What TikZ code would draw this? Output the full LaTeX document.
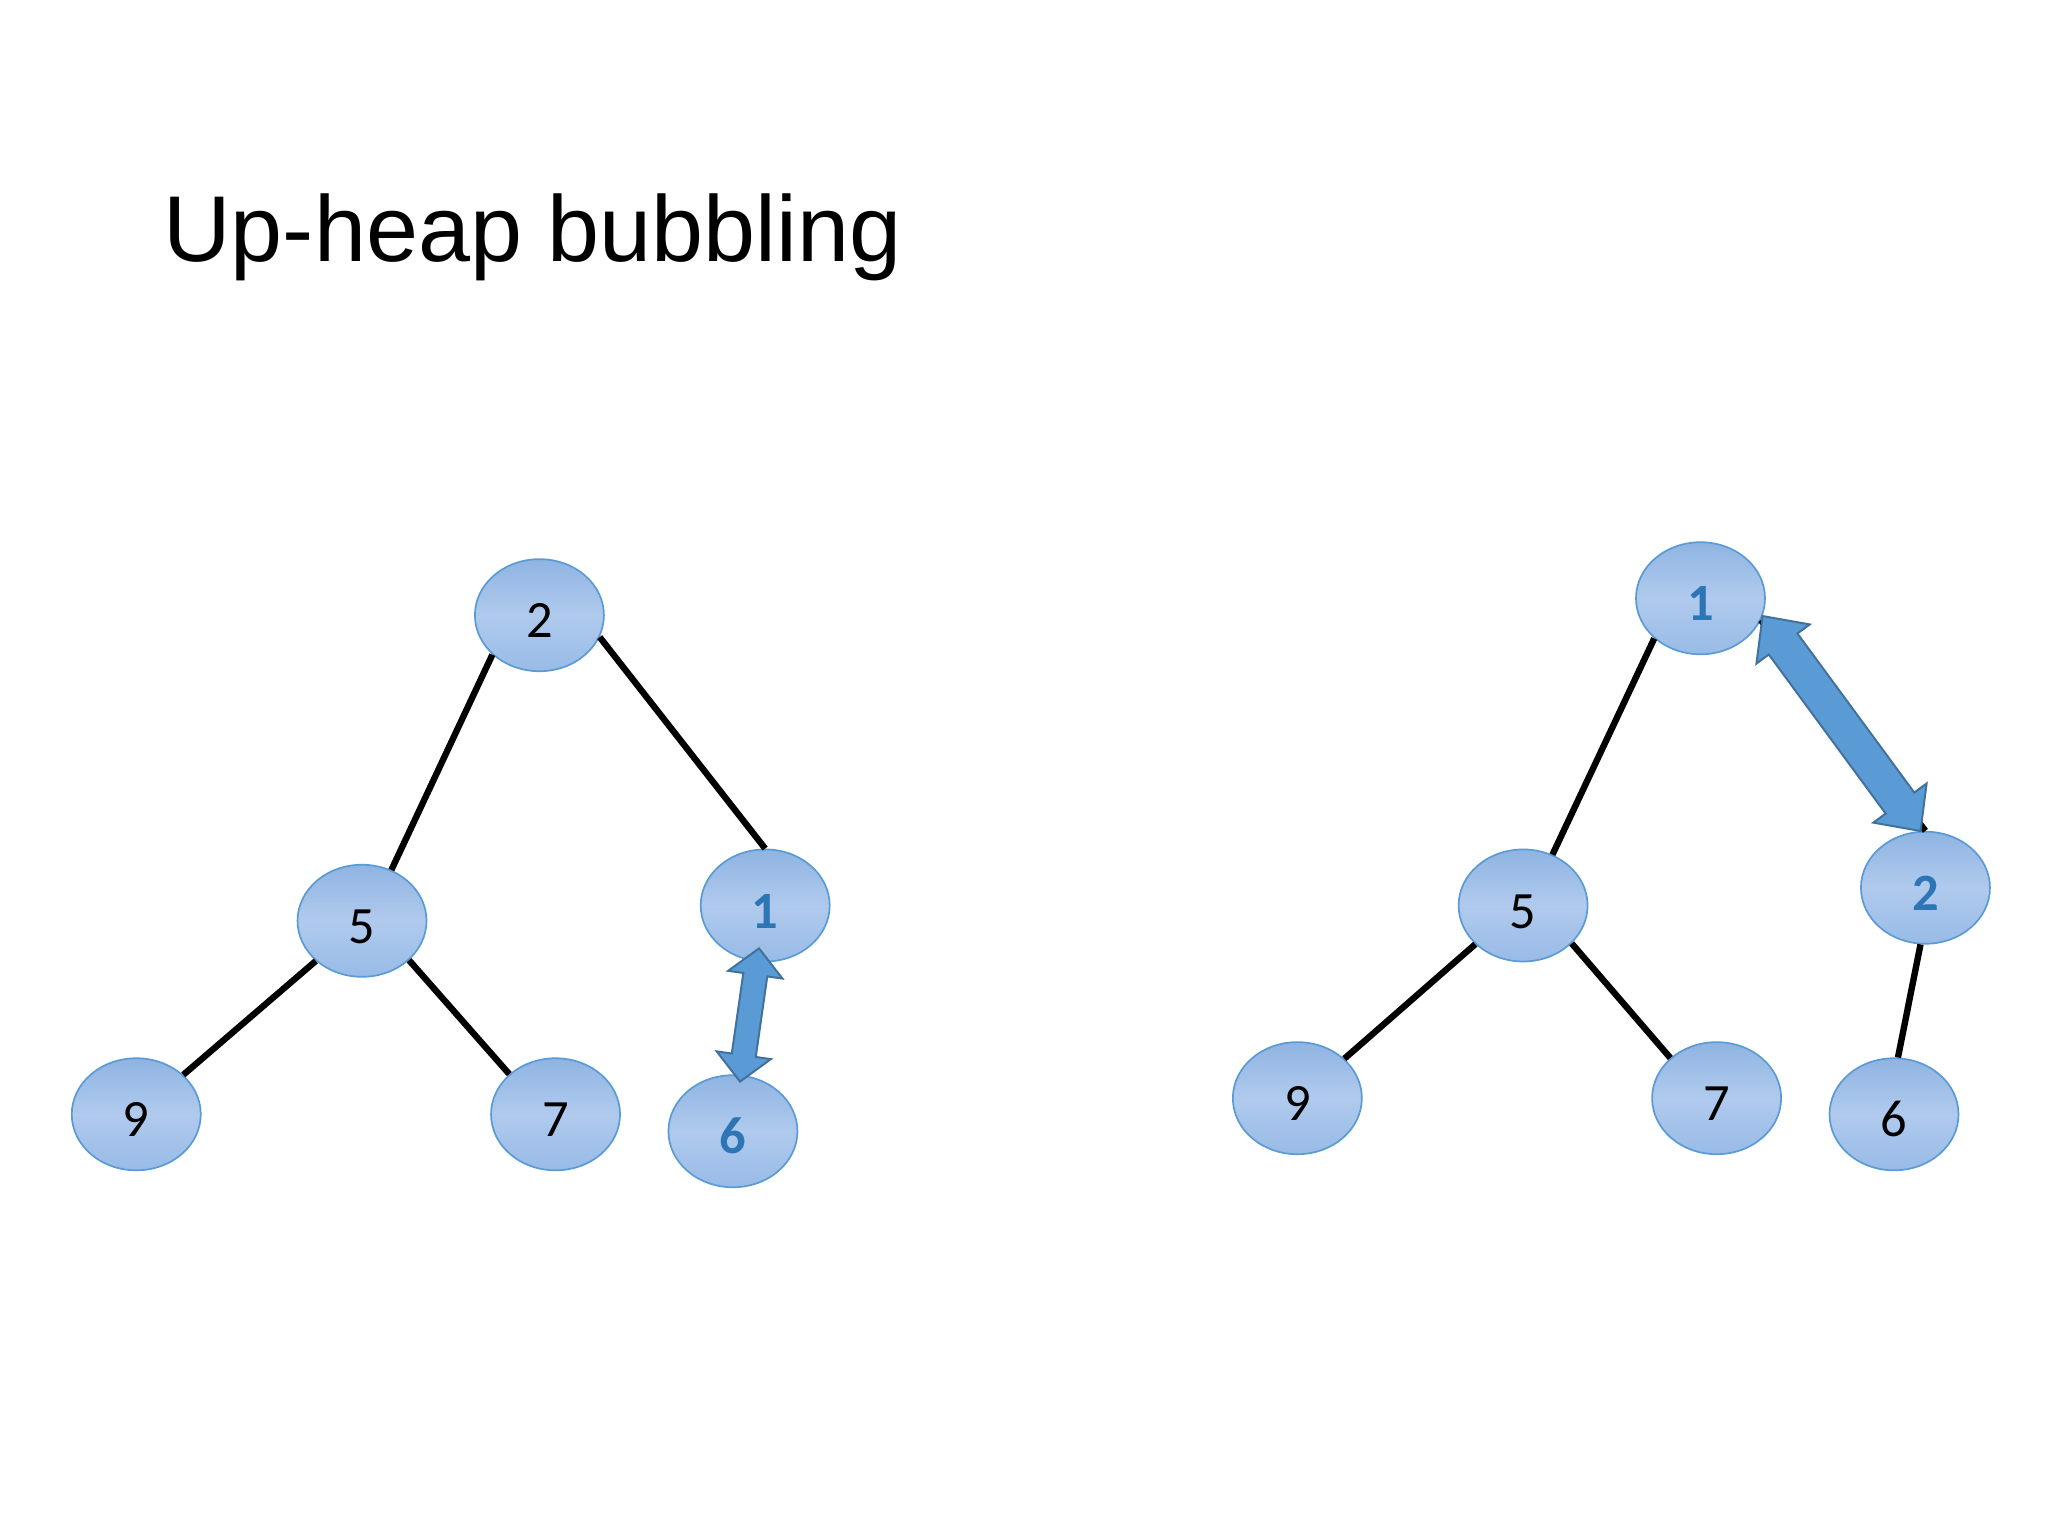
\documentclass[tikz,border=0pt]{standalone}
\usepackage{fontspec}
\setmainfont{Carlito}
\newfontfamily\titlefont{Liberation Sans}
\usetikzlibrary{calc,shapes.geometric}
\definecolor{nodetop}{RGB}{143,180,226}
\definecolor{nodemid}{RGB}{176,202,237}
\definecolor{nodebot}{RGB}{152,187,230}
\definecolor{nodeline}{RGB}{91,155,213}
\definecolor{swapblue}{RGB}{46,117,182}
\definecolor{arrowfill}{RGB}{91,155,213}
\definecolor{arrowline}{RGB}{65,113,156}
\tikzset{
  heapnode/.style={ellipse, draw=nodeline, line width=0.6pt, top color=nodetop, bottom color=nodebot, middle color=nodemid,
    minimum width=1.6cm, minimum height=1.39cm, inner sep=0pt, text height=0.56cm, text depth=0pt, font=\fontsize{18.5}{18.5}\selectfont},
  swapped/.style={text=swapblue, font=\fontsize{18.5}{18.5}\selectfont\bfseries},
  treeline/.style={line width=2.25pt},
  swaparrow/.style={fill=arrowfill, draw=arrowline, line width=0.7pt, line join=miter}
}
\begin{document}
\begin{tikzpicture}
\useasboundingbox[fill=white] (0,0) rectangle (25.4,19.05);
\node[anchor=base west, inner sep=0pt, font=\titlefont\fontsize{33}{40}\selectfont] (title) at (2.02,15.81) {Up-heap bubbling};

% before the swap
\node[heapnode] (L2) at (6.69,11.42) {2};
\node[heapnode] (L5) at (4.49,7.63) {5};
\node[heapnode, swapped] (L1) at (9.49,7.82) {1};
\node[heapnode] (L9) at (1.69,5.23) {9};
\node[heapnode] (L7) at (6.89,5.23) {7};
\node[heapnode, swapped] (L6) at (9.09,5.02) {6};
\draw[treeline] (L2.220)--(L5.60);
\draw[treeline] (L2.340)--(L1.north);
\draw[treeline] (L5.221)--(L9.40);
\draw[treeline] (L5.320)--(L7.139);

\path (L6.center)--(L1.center) coordinate[pos=0.22](p1) coordinate[pos=0.81](p2);
\path ($(p1)!0.33cm!(p2)$) coordinate (a1) ($(p2)!0.33cm!(p1)$) coordinate (a2);
\draw[swaparrow] (p1) -- ($(a1)!0.34cm!90:(p2)$) -- ($(a1)!0.15cm!90:(p2)$) -- ($(a2)!0.15cm!90:(p2)$)
  -- ($(a2)!0.34cm!90:(p2)$) -- (p2) -- ($(a2)!0.34cm!-90:(p2)$) -- ($(a2)!0.15cm!-90:(p2)$)
  -- ($(a1)!0.15cm!-90:(p2)$) -- ($(a1)!0.34cm!-90:(p2)$) -- cycle;

% after the swap
\node[heapnode, swapped] (R1) at (21.09,11.63) {1};
\node[heapnode] (R5) at (18.89,7.82) {5};
\node[heapnode, swapped] (R2) at (23.88,8.04) {2};
\node[heapnode] (R9) at (16.09,5.43) {9};
\node[heapnode] (R7) at (21.29,5.43) {7};
\node[heapnode] (R6) at (23.49,5.23) {6};
\draw[treeline] (R1.221)--(R5.60);
\draw[treeline] (R1.340)--(R2.north);
\draw[treeline] (R5.219)--(R9.40);
\draw[treeline] (R5.322)--(R7.139);
\draw[treeline] (R2.265)--(R6.86);

\path (R1.344) coordinate (p3) (R2.95) coordinate (p4);
\path ($(p3)!0.43cm!(p4)$) coordinate (b1) ($(p4)!0.43cm!(p3)$) coordinate (b2);
\draw[swaparrow] (p3) -- ($(b1)!0.41cm!90:(p4)$) -- ($(b1)!0.22cm!90:(p4)$) -- ($(b2)!0.22cm!90:(p4)$)
  -- ($(b2)!0.41cm!90:(p4)$) -- (p4) -- ($(b2)!0.41cm!-90:(p4)$) -- ($(b2)!0.22cm!-90:(p4)$)
  -- ($(b1)!0.22cm!-90:(p4)$) -- ($(b1)!0.41cm!-90:(p4)$) -- cycle;
\end{tikzpicture}
\end{document}
